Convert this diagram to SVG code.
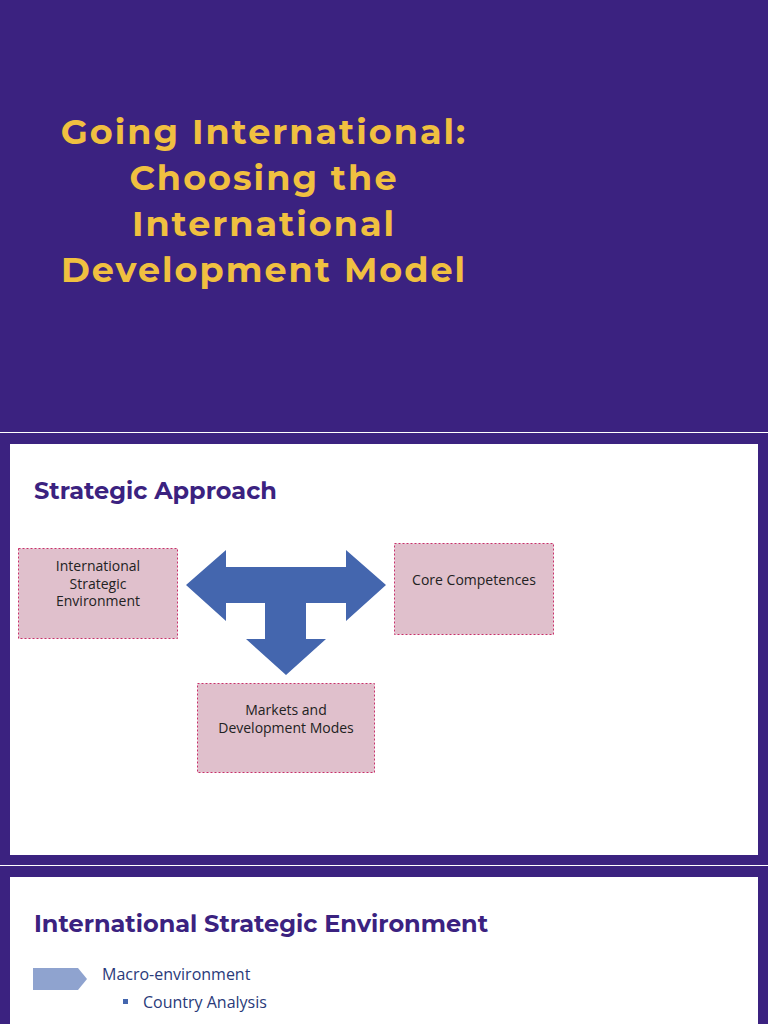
<svg xmlns="http://www.w3.org/2000/svg" width="768" height="1024" viewBox="0 0 768 1024">
<style>
.t{font-family:Montserrat,"Open Sans","Liberation Sans",sans-serif;font-weight:bold;letter-spacing:2px;fill:#f0c040;font-size:35px}
.h{font-family:Montserrat,"Open Sans","Liberation Sans",sans-serif;font-weight:bold;fill:#3b2280;font-size:24px}
.box{fill:#e0c0cc;stroke:#c8306a;stroke-width:1;stroke-dasharray:2 2}
.l{font-family:"Open Sans","Liberation Sans",sans-serif;font-size:14px;fill:#222;text-anchor:middle}
.b{font-family:"Open Sans","Liberation Sans",sans-serif;font-size:16px;fill:#2a3a7a}
</style>
<rect width="768" height="1024" fill="#3b2280"/>
<line x1="0" y1="432.5" x2="768" y2="432.5" stroke="#fff"/>
<line x1="0" y1="865.5" x2="768" y2="865.5" stroke="#fff"/>
<g text-anchor="middle">
<text class="t" x="264" y="144">Going International:</text>
<text class="t" x="264" y="190">Choosing the</text>
<text class="t" x="264" y="236">International</text>
<text class="t" x="264" y="282">Development Model</text>
</g>
<rect x="10" y="444" width="748" height="411" fill="#fff"/>
<text class="h" x="34" y="499">Strategic Approach</text>
<g id="connectors">
<path d="M186,585 L226,550 L226,567 L346,567 L346,550 L386,585 L346,621 L346,603 L306,603 L306,639 L326,639 L286,675 L246,639 L265,639 L265,603 L226,603 L226,621 Z" fill="#4466ae"/>
</g>
<g id="n1"><rect class="box" x="18.5" y="548.5" width="159" height="90"/>
<text class="l" x="98" y="571">International</text><text class="l" x="98" y="589">Strategic</text><text class="l" x="98" y="606">Environment</text></g>
<g id="n2"><rect class="box" x="394.5" y="543.5" width="159" height="91"/>
<text class="l" x="474" y="585">Core Competences</text></g>
<g id="n3"><rect class="box" x="197.5" y="683.5" width="177" height="89"/>
<text class="l" x="286" y="715">Markets and</text><text class="l" x="286" y="733">Development Modes</text></g>
<rect x="10" y="877" width="748" height="147" fill="#fff"/>
<text class="h" x="34" y="932">International Strategic Environment</text>
<path d="M33,968 L78,968 L87,979 L78,990 L33,990 Z" fill="#8fa3cf"/>
<text class="b" x="102" y="980">Macro-environment</text>
<rect x="123" y="999" width="5" height="5" fill="#4466ae"/>
<text class="b" x="143" y="1008">Country Analysis</text>
</svg>
